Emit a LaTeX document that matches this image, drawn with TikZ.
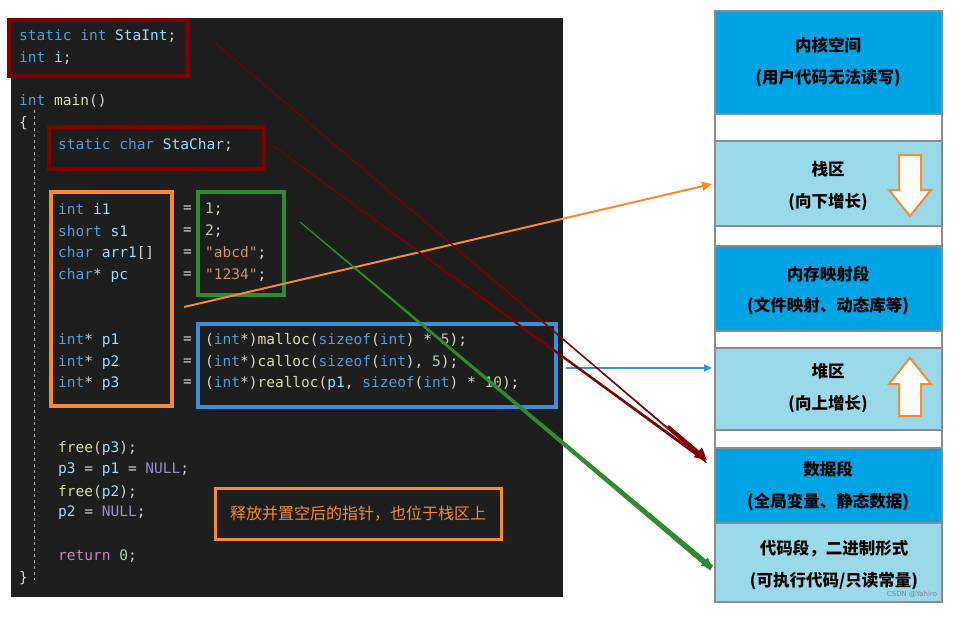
\documentclass[tikz,border=0pt]{standalone}
\usepackage{fontspec}
\setmainfont{DejaVu Sans}
\newfontfamily\codefont{DejaVu Sans Mono}
\newfontfamily\cjk{Noto Sans CJK SC}
\usetikzlibrary{arrows.meta,calc}
\definecolor{bg}{HTML}{1E1E1E}
\definecolor{kw}{HTML}{569CD6}
\definecolor{vr}{HTML}{9CDCFE}
\definecolor{fn}{HTML}{DCDCAA}
\definecolor{st}{HTML}{CE9178}
\definecolor{nm}{HTML}{B5CEA8}
\definecolor{pu}{HTML}{C586C0}
\definecolor{tx}{HTML}{D4D4D4}
\definecolor{dred}{HTML}{800000}
\definecolor{org}{HTML}{F58A33}
\definecolor{grn}{HTML}{2E8B2E}
\definecolor{blu}{HTML}{3A8FDB}
\definecolor{segB}{HTML}{00A3E4}
\definecolor{segL}{HTML}{99D9EA}
\definecolor{segG}{HTML}{8C8C8C}
\begin{document}
\begin{tikzpicture}[x=1pt,y=-1pt,
  code/.style={font=\codefont\fontsize{14.5}{16}\selectfont, anchor=west, inner sep=0, text=tx},
  hbox/.style={line width=4pt},
  seg/.style={draw=segG, line width=2.5pt},
  segt/.style={font=\cjk\bfseries\fontsize{16.5}{20}\selectfont, inner sep=0},
  arr/.style={draw=org, line width=2pt, fill=white}]
\useasboundingbox (0,0) rectangle (969,618);
\fill[bg] (11,18) rectangle (563,597);
\draw[gray!60, dashed, line width=0.5pt] (34,110) -- (34,580);
% code
\node[code] (l1) at (19,36) {\textcolor{kw}{static int} \textcolor{vr}{StaInt};};
\node[code] (l2) at (19,58) {\textcolor{kw}{int} \textcolor{vr}{i};};
\node[code] (l3) at (19,101) {\textcolor{kw}{int} \textcolor{fn}{main}()};
\node[code] (l4) at (19,123) {\{};
\node[code] (l5) at (58,145) {\textcolor{kw}{static char} \textcolor{vr}{StaChar};};
\node[code] (a1) at (58,209) {\textcolor{kw}{int} \textcolor{vr}{i1}};
\node[code] (a2) at (58,231) {\textcolor{kw}{short} \textcolor{vr}{s1}};
\node[code] (a3) at (58,253) {\textcolor{kw}{char} \textcolor{vr}{arr1}[]};
\node[code] (a4) at (58,275) {\textcolor{kw}{char}* \textcolor{vr}{pc}};
\node[code] (e1) at (183,209) {=};
\node[code] (e2) at (183,231) {=};
\node[code] (e3) at (183,253) {=};
\node[code] (e4) at (183,275) {=};
\node[code] (v1) at (205,209) {\textcolor{nm}{1};};
\node[code] (v2) at (205,231) {\textcolor{nm}{2};};
\node[code] (v3) at (205,253) {\textcolor{st}{"abcd"};};
\node[code] (v4) at (205,275) {\textcolor{st}{"1234"};};
\node[code] (b1) at (58,340) {\textcolor{kw}{int}* \textcolor{vr}{p1}};
\node[code] (b2) at (58,362) {\textcolor{kw}{int}* \textcolor{vr}{p2}};
\node[code] (b3) at (58,383) {\textcolor{kw}{int}* \textcolor{vr}{p3}};
\node[code] (f1) at (183,340) {=};
\node[code] (f2) at (183,362) {=};
\node[code] (f3) at (183,383) {=};
\node[code] (m1) at (205,340) {(\textcolor{kw}{int}*)\textcolor{fn}{malloc}(\textcolor{kw}{sizeof}(\textcolor{kw}{int}) * \textcolor{nm}{5});};
\node[code] (m2) at (205,362) {(\textcolor{kw}{int}*)\textcolor{fn}{calloc}(\textcolor{kw}{sizeof}(\textcolor{kw}{int}), \textcolor{nm}{5});};
\node[code] (m3) at (205,383) {(\textcolor{kw}{int}*)\textcolor{fn}{realloc}(\textcolor{vr}{p1}, \textcolor{kw}{sizeof}(\textcolor{kw}{int}) * \textcolor{nm}{10});};
\node[code] (c1) at (58,448) {\textcolor{fn}{free}(\textcolor{vr}{p3});};
\node[code] (c2) at (58,470) {\textcolor{vr}{p3} = \textcolor{vr}{p1} = \textcolor{pu!60!kw}{NULL};};
\node[code] (c3) at (58,492) {\textcolor{fn}{free}(\textcolor{vr}{p2});};
\node[code] (c4) at (58,513) {\textcolor{vr}{p2} = \textcolor{pu!60!kw}{NULL};};
\node[code] (c5) at (58,556) {\textcolor{pu}{return} \textcolor{nm}{0};};
\node[code] (c6) at (19,578) {\}};
% highlight boxes
\draw[hbox, dred] (9,20) rectangle (187,76);
\draw[hbox, dred] (49,127) rectangle (264,169);
\draw[hbox, org] (51,192) rectangle (172,406);
\draw[hbox, grn] (198,192) rectangle (284,295);
\draw[hbox, blu] (198,324) rectangle (556,407);
\draw[line width=3pt, org] (215,488) rectangle (501,539);
\node[font=\cjk\fontsize{16}{20}\selectfont, text=org, inner sep=0] (note) at (358,514) {释放并置空后的指针，也位于栈区上};
% segments
\path[seg, fill=segB] (715,11) rectangle (942,114);
\path[seg, fill=white] (715,114) rectangle (942,141);
\path[seg, fill=segL] (715,141) rectangle (942,226);
\path[seg, fill=white] (715,226) rectangle (942,246);
\path[seg, fill=segB] (715,246) rectangle (942,331);
\path[seg, fill=white] (715,331) rectangle (942,348);
\path[seg, fill=segL] (715,348) rectangle (942,430);
\path[seg, fill=white] (715,430) rectangle (942,448);
\path[seg, fill=segB] (715,448) rectangle (942,523);
\path[seg, fill=segL] (715,523) rectangle (942,602);
\node[segt] (k1) at (828,45) {内核空间};
\node[segt] (k2) at (828,78) {(用户代码无法读写)};
\node[segt] (s1) at (828,169) {栈区};
\node[segt] (s2) at (828,202) {(向下增长)};
\node[segt] (p1) at (828,274) {内存映射段};
\node[segt] (p2) at (828,306) {(文件映射、动态库等)};
\node[segt] (h1) at (828,371) {堆区};
\node[segt] (h2) at (828,404) {(向上增长)};
\node[segt] (d1) at (828,469) {数据段};
\node[segt] (d2) at (828,502) {(全局变量、静态数据)};
\node[segt] (t1) at (834,549) {代码段，二进制形式};
\node[segt] (t2) at (834,581) {(可执行代码/只读常量)};
\node[font=\fontsize{7}{8}\selectfont, text=gray, inner sep=0] (wm) at (912,594) {CSDN @Yahiro};
% growth arrows
\draw[arr] (899,155) -- (921,155) -- (921,190) -- (931,190) -- (910,216) -- (889,190) -- (899,190) -- cycle;
\draw[arr] (899,416) -- (921,416) -- (921,384) -- (931,384) -- (910,358) -- (889,384) -- (899,384) -- cycle;
% connectors
\coordinate (o0) at (184,307); \coordinate (o1) at (712,184);
\coordinate (bl0) at (566,368); \coordinate (bl1) at (712,368);
\coordinate (r0) at (214,42); \coordinate (r1) at (268,142); \coordinate (r2) at (707,460);
\coordinate (g0) at (300,222); \coordinate (g1) at (712,568);
\draw[org, line width=2pt, -{Triangle[length=10pt,width=9pt]}] (o0) -- (o1);
\draw[blu, line width=1.2pt, -{Triangle[length=8pt,width=7pt]}] (bl0) -- (bl1);
\fill[dred] ($(r0)+(0,-0.5)$) -- ($(r2)+(-3,-2)$) -- ($(r2)+(0,3)$) -- ($(r0)+(0,0.5)$) -- cycle;
\fill[dred] ($(r1)+(0,-0.5)$) -- ($(r2)+(-4,-3)$) -- ($(r2)+(-1,3)$) -- ($(r1)+(0,0.5)$) -- cycle;
\draw[dred, line width=4pt, -{Triangle[length=12pt,width=12pt]}] ($(r2)!0.08!(r0)$) -- (r2);
\fill[grn] ($(g0)+(-0.4,0.4)$) -- ($(g1)+(-2,2.5)$) -- ($(g1)+(1,-2.5)$) -- ($(g0)+(0.4,-0.4)$) -- cycle;
\draw[grn, line width=3pt, -{Triangle[length=10pt,width=10pt]}] ($(g1)!0.08!(g0)$) -- (g1);
\end{tikzpicture}
\end{document}
